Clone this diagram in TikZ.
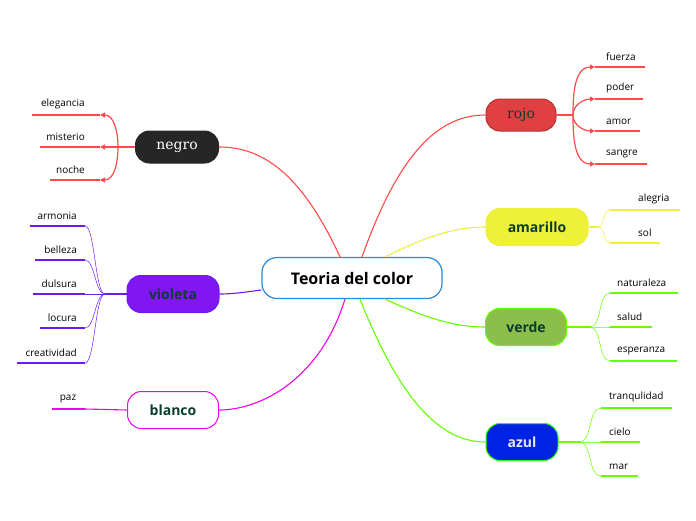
\documentclass[tikz,border=0pt]{standalone}
\usepackage{fontspec}
\setmainfont{Open Sans}
\newfontfamily\serifnode{DejaVu Serif}
\usetikzlibrary{arrows.meta}
\definecolor{dg}{HTML}{0B3D2E}
\definecolor{cred}{HTML}{FF4A4A}
\definecolor{cyel}{HTML}{EEF03A}
\definecolor{cvio}{HTML}{6A1BF0}
\definecolor{cgr}{HTML}{66FF00}
\definecolor{cmag}{HTML}{F000F0}
\definecolor{cblue}{HTML}{2A8AD6}
\definecolor{cver}{HTML}{8BBE4A}
\definecolor{crojo}{HTML}{E04040}
\begin{document}
\begin{tikzpicture}[x=1pt,y=-1pt,
  topic/.style={rounded corners=14pt,minimum height=34pt,inner xsep=12pt,font=\bfseries\fontsize{14}{16}\selectfont,text=dg,line width=1pt},
  leaf/.style={font=\fontsize{10}{12}\selectfont,inner sep=1pt},
  bar/.style={line width=2.2pt},
  br/.style={line width=1.1pt}]
\useasboundingbox (0,0) rectangle (696,520);
% central
\node[fill=white,rounded corners=15pt,minimum width=180pt,minimum height=41pt,draw=cblue,line width=1.2pt,font=\bfseries\fontsize{16}{18}\selectfont] (c) at (352,278) {Teoria del color};
% topics
\node[topic,fill=crojo,draw=crojo!80!black,minimum width=70pt,minimum height=32pt,font=\serifnode\fontsize{14}{16}\selectfont] (rojo) at (521,115) {rojo};
\node[topic,fill=black!85,draw=black!85,text=white,minimum width=83pt,minimum height=32pt,font=\serifnode\fontsize{14}{16}\selectfont] (negro) at (177,147) {negro};
\node[topic,fill=cyel,draw=cyel,minimum width=102pt,minimum height=37pt] (ama) at (537,227) {amarillo};
\node[topic,fill=cvio!85!magenta,draw=cvio,minimum width=92pt,minimum height=37pt] (vio) at (173,294) {violeta};
\node[topic,fill=cver,draw=cgr,minimum width=81pt,minimum height=37pt] (ver) at (526,327) {verde};
\node[topic,fill=white,draw=cmag,minimum width=91pt,minimum height=37pt] (bla) at (173,410) {blanco};
\node[topic,fill=blue!85!cyan!90!black,draw=green!80!lime,text=white!90!blue,minimum width=72pt,minimum height=37pt] (azu) at (522,442) {azul};
% main connectors
\draw[cred,br] (c.north) ++(10,0) coordinate (c1) .. controls (400,150) and (440,115) .. (rojo.west);
\draw[cred,br] (c.north) ++(-12,0) coordinate (c2) .. controls (300,170) and (260,147) .. (negro.east);
\draw[cyel,br] (c.north) ++(33,0) coordinate (c3) .. controls (420,240) and (450,227) .. (ama.west);
\draw[cvio,br] (c.west) ++(0,12) coordinate (c4) .. controls (245,292) and (235,294) .. (vio.east);
\draw[cgr,br] (c.south) ++(33,0) coordinate (c5) .. controls (420,315) and (450,327) .. (ver.west);
\draw[cmag,br] (c.south) ++(-7,0) coordinate (c6) .. controls (320,380) and (260,410) .. (bla.east);
\draw[cgr,br] (c.south) ++(8,0) coordinate (c7) .. controls (400,400) and (440,442) .. (azu.west);
% rojo leaves
\coordinate (rf) at (573,115);
\draw[cred,line width=1.5pt] (rojo.east) -- (rf);
\foreach \n/\y/\e/\t in {a/67/645/fuerza,b/99/643/poder,c/131/640/amor,d/164/647/sangre}{
  \coordinate (r\n) at (595,\y);
  \draw[cred,bar] (\e,\y) coordinate (re\n) -- (r\n);
  \draw[cred,line width=1.2pt,-{Triangle[length=5pt,width=5pt]}] (rf) to[out=\ifnum\y<115 90\else -90\fi,in=180] (r\n);
  \node[leaf,anchor=south west] (rl\n) at (605,\y-5) {\t};
}
% negro leaves
\coordinate (nf) at (118,147);
\draw[cred,line width=1.5pt] (negro.west) -- (nf);
\foreach \n/\y/\s/\t in {a/115/32/elegancia,b/147/40/misterio,c/180/50/noche}{
  \coordinate (n\n) at (100,\y);
  \draw[cred,bar] (\s,\y) coordinate (ns\n) -- (n\n);
  \node[leaf,anchor=south east] (nl\n) at (86,\y-5) {\t};
}
\draw[cred,line width=1.2pt,-{Triangle[length=5pt,width=5pt]}] (nf) to[out=90,in=0] (na);
\draw[cred,line width=1.2pt,-{Triangle[length=5pt,width=5pt]}] (nf) -- (nb);
\draw[cred,line width=1.2pt,-{Triangle[length=5pt,width=5pt]}] (nf) to[out=-90,in=0] (nc);
% violeta leaves
\coordinate (vf) at (105,294);
\draw[cvio,br] (vio.west) -- (vf);
\foreach \n/\y/\s/\t in {a/226/30/armonia,b/260/35/belleza,c/294/33/dulsura,d/328/40/locura,e/363/17/creatividad}{
  \coordinate (v\n) at (85,\y);
  \draw[cvio,bar] (\s,\y) coordinate (vs\n) -- (v\n);
  \draw[cvio,line width=0.5pt] (vf) .. controls (95,294) and (95,\y) .. (v\n);
  \node[leaf,anchor=south east] (vl\n) at (78,\y-5) {\t};
}
% blanco leaf
\coordinate (bp) at (85,409);
\draw[cmag,bar] (52,409) coordinate (bs) -- (bp);
\draw[cmag,br] (bla.west) -- (bp);
\node[leaf,anchor=south] (bl) at (68,404) {paz};
% amarillo leaves
\coordinate (af) at (598,227);
\draw[cyel,br] (ama.east) -- (af);
\foreach \n/\y/\e/\t in {a/210/680/alegria,b/243/660/sol}{
  \coordinate (a\n) at (610,\y);
  \draw[cyel,bar] (a\n) -- (\e,\y) coordinate (ae\n);
  \draw[cyel,line width=0.5pt] (af) .. controls (605,227) and (603,\y) .. (a\n);
  \node[leaf,anchor=south west] (al\n) at (637,\y-5) {\t};
}
% verde leaves
\coordinate (gf) at (590,327);
\draw[cgr,br] (ver.east) -- (gf);
\foreach \n/\y/\e/\t in {a/293/678/naturaleza,b/327/652/salud,c/361/677/esperanza}{
  \coordinate (g\n) at (610,\y);
  \draw[cgr,bar] (g\n) -- (\e,\y) coordinate (ge\n);
  \draw[cgr,line width=0.5pt] (gf) .. controls (602,327) and (598,\y) .. (g\n);
  \node[leaf,anchor=south west] (gl\n) at (616,\y-5) {\t};
}
% azul leaves
\coordinate (zf) at (580,442);
\draw[cgr,br] (azu.east) -- (zf);
\foreach \n/\y/\e/\t in {a/408/672/tranqulidad,b/442/640/cielo,c/476/638/mar}{
  \coordinate (z\n) at (601,\y);
  \draw[cgr,bar] (z\n) -- (\e,\y) coordinate (ze\n);
  \draw[cgr,line width=0.5pt] (zf) .. controls (592,442) and (588,\y) .. (z\n);
  \node[leaf,anchor=south west] (zl\n) at (608,\y-5) {\t};
}
\end{tikzpicture}
\end{document}
